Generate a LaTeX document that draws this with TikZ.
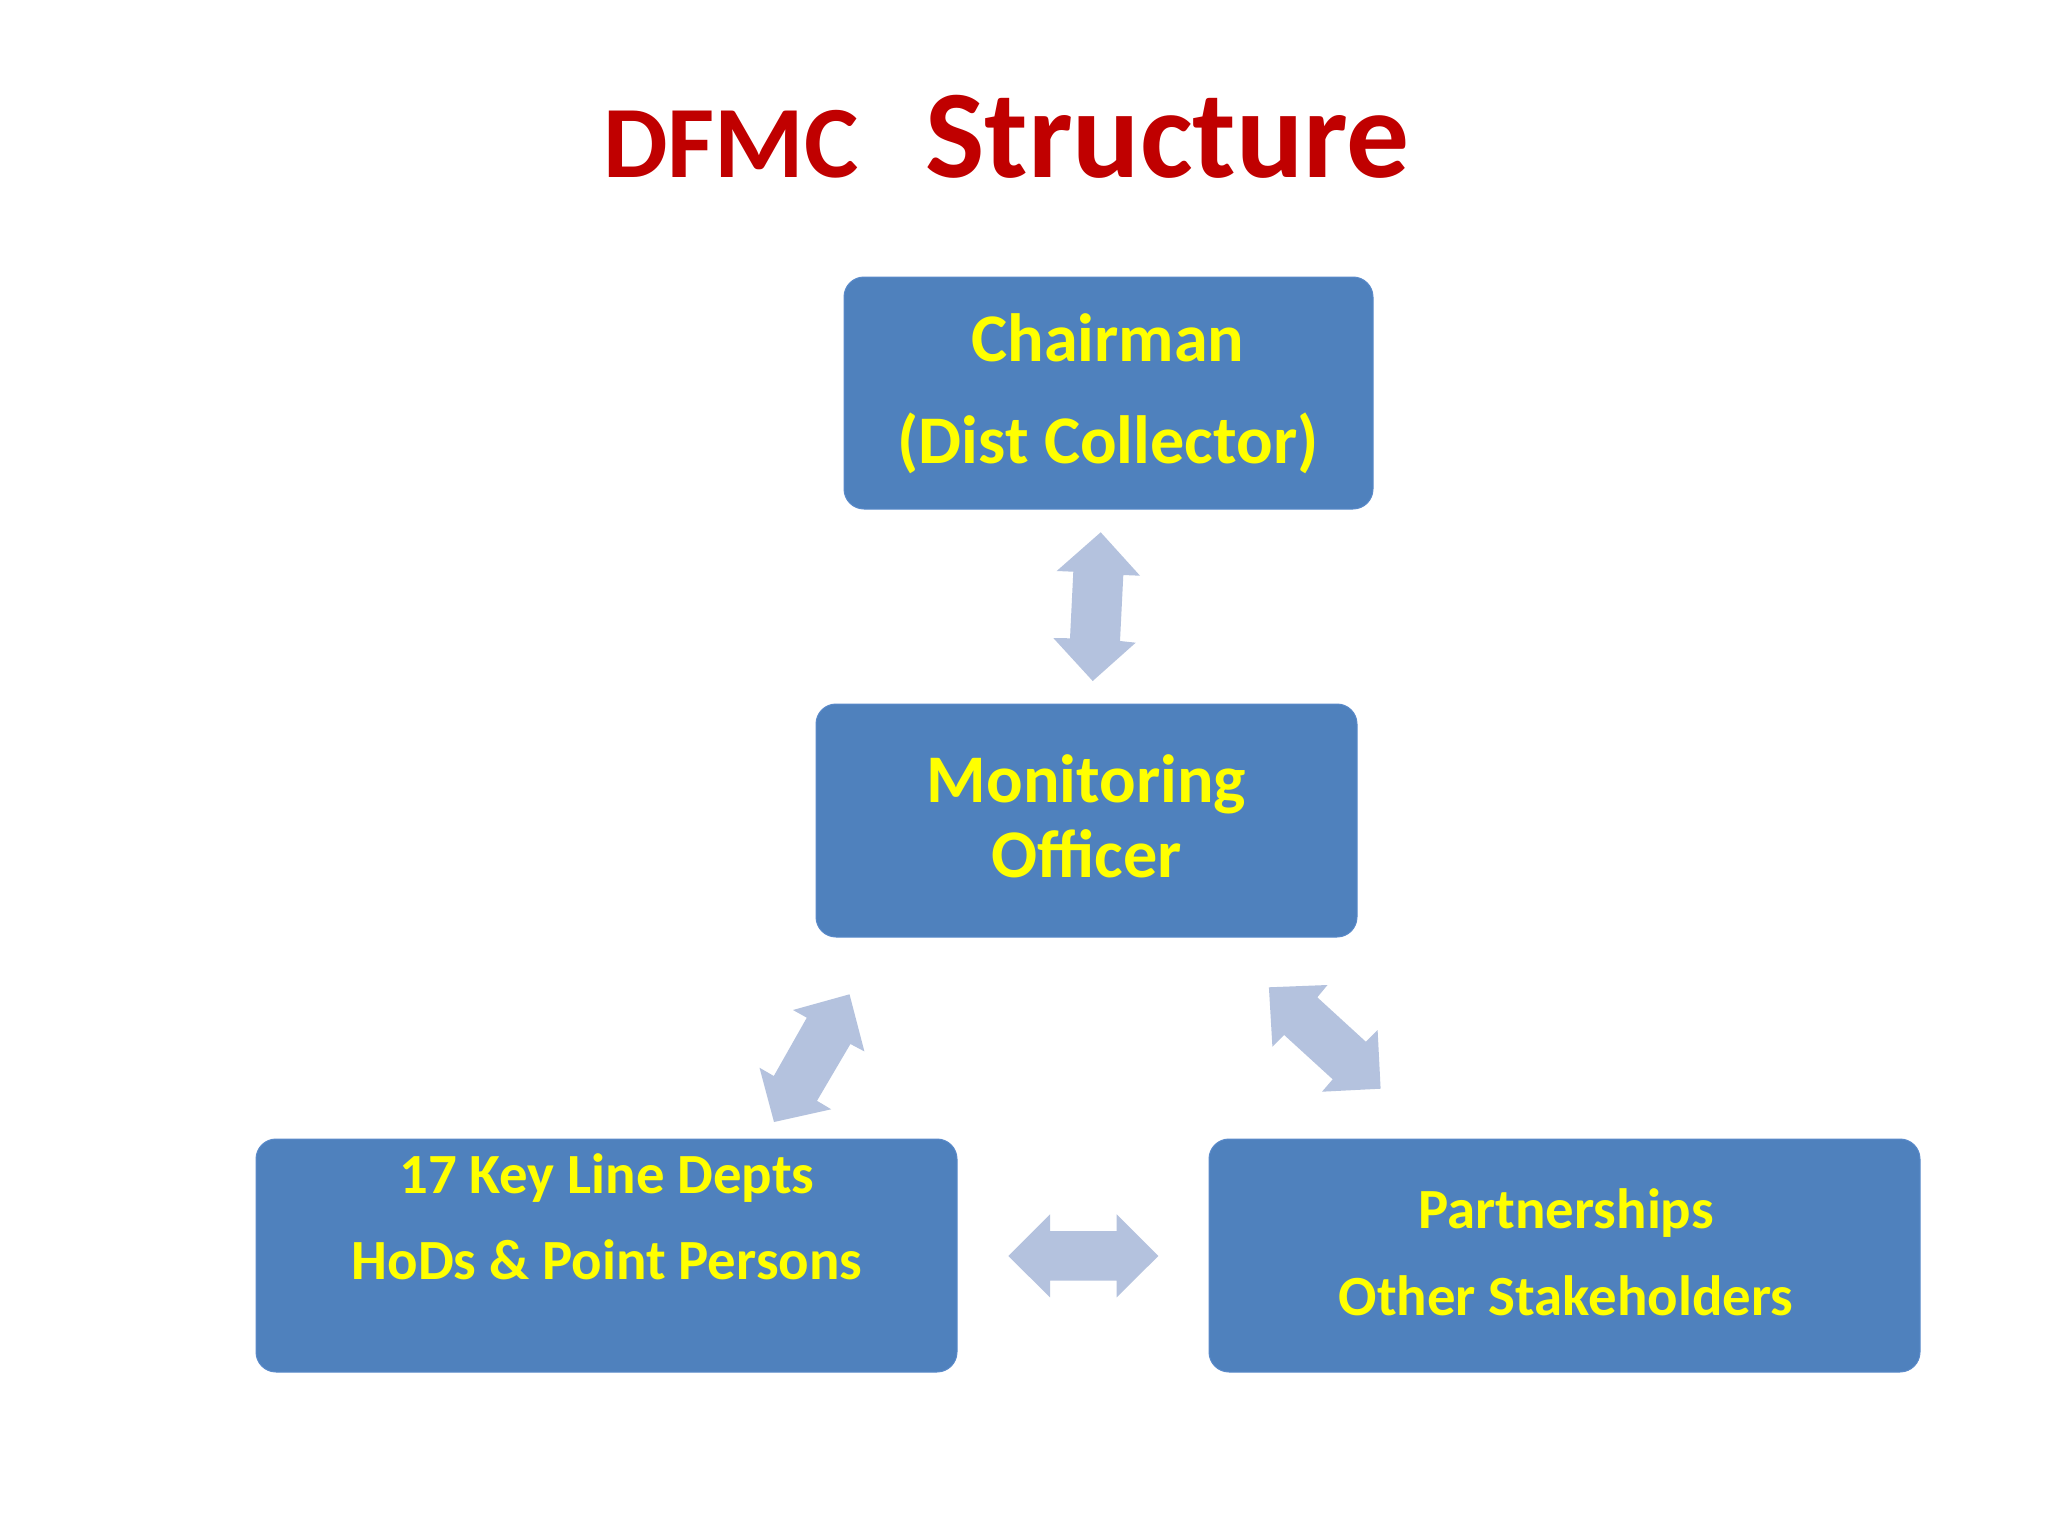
\documentclass[tikz,border=0pt]{standalone}
\usepackage{fontspec}
\setmainfont{Carlito}
\definecolor{boxblue}{HTML}{4F81BD}
\definecolor{boxedge}{HTML}{5A8ACA}
\definecolor{arrowfill}{HTML}{B4C2DE}
\definecolor{titlered}{HTML}{C00000}
\definecolor{txtyellow}{HTML}{FFFF00}
\begin{document}
\begin{tikzpicture}[x=1pt,y=-1pt,
  boxnode/.style={draw=boxedge,line width=1pt,fill=boxblue,rounded corners=20pt},
  bigtxt/.style={anchor=base,inner sep=0pt,text=txtyellow,font=\fontsize{68.2}{80}\selectfont\bfseries},
  smalltxt/.style={anchor=base,inner sep=0pt,text=txtyellow,font=\fontsize{56.8}{67}\selectfont\bfseries},
  blockarrow/.style={fill=arrowfill,draw=none}]
\useasboundingbox[fill=white] (0,0) rectangle (2048,1536);

% title
\node[anchor=base west,inner sep=0pt,text=titlered,font=\fontsize{102.5}{120}\selectfont\bfseries] (t1) at (603,177.5) {DFMC};
\node[anchor=base west,inner sep=0pt,text=titlered,font=\fontsize{125.5}{146}\selectfont\bfseries] (t2) at (925,177.5) {Structure};

% boxes
\draw[boxnode] (844,277) rectangle (1373,509);
\coordinate (chair) at (1108,393);
\draw[boxnode] (816,704) rectangle (1357,937);
\coordinate (mon) at (1086.5,820);
\draw[boxnode] (256,1139) rectangle (957,1372);
\coordinate (left) at (606.5,1255);
\draw[boxnode] (1209,1139) rectangle (1920,1372);
\coordinate (right) at (1564.5,1255);

% texts
\node[bigtxt] (c1) at (1108,361) {Chairman};
\node[bigtxt] (c2) at (1108,463) {(Dist Collector)};
\node[bigtxt] (m1) at (1086.5,802.5) {Monitoring};
\node[bigtxt] (m2) at (1086.5,877.5) {Officer};
\node[smalltxt] (l1) at (607,1193.5) {17 Key Line Depts};
\node[smalltxt] (l2) at (607,1279.5) {HoDs \& Point Persons};
\node[smalltxt] (r1) at (1566,1228.5) {Partnerships};
\node[smalltxt] (r2) at (1566,1315) {Other Stakeholders};

% block arrows
\fill[blockarrow] (1100.7,532.3) -- (1140,575.7) -- (1123.3,575) -- (1120,641) -- (1135.7,642.7)
  -- (1092.7,681) -- (1053.3,638) -- (1070,638.3) -- (1073.3,571.7) -- (1056.7,571) -- cycle;
\fill[blockarrow] (1008.3,1256) -- (1050,1214.3) -- (1050,1231) -- (1116.7,1231) -- (1116.7,1214.3)
  -- (1158.3,1256) -- (1116.7,1297.3) -- (1116.7,1280.7) -- (1050,1280.7) -- (1050,1297.3) -- cycle;
\fill[blockarrow] (849.5,994.3) -- (864.4,1051.4) -- (850.4,1044) -- (817,1100.8) -- (831.2,1109.3)
  -- (774,1122) -- (759.5,1067.7) -- (773.8,1076) -- (806.8,1017.7) -- (793,1010) -- cycle;
\fill[blockarrow] (1268.9,987.3) -- (1327.5,985) -- (1317.3,997.3) -- (1365.8,1041.7) -- (1377.6,1030)
  -- (1380.6,1088.7) -- (1322,1091.7) -- (1332.7,1079.3) -- (1284.2,1035) -- (1272.4,1046.7) -- cycle;
\end{tikzpicture}
\end{document}
